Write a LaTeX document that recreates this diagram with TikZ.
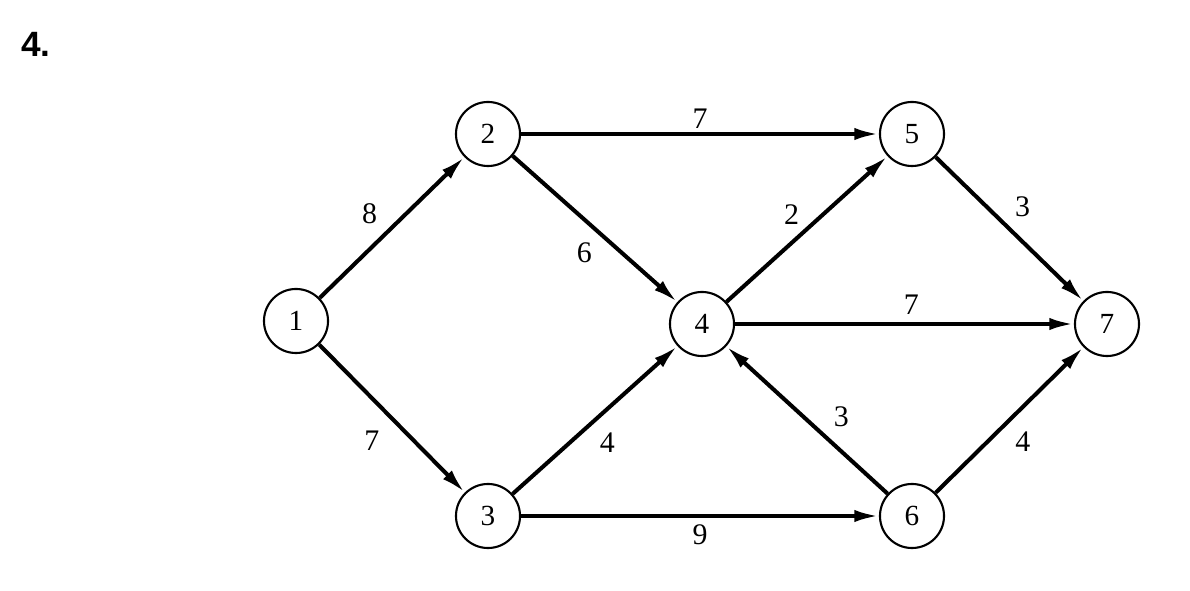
\documentclass[tikz,border=0pt]{standalone}
\usepackage{fontspec}
\setmainfont{Liberation Serif}
\newfontfamily\headfont{Liberation Sans}
\usetikzlibrary{arrows.meta}

\begin{document}
\begin{tikzpicture}[x=0.01cm, y=-0.01cm,
  vertex/.style={draw, circle, line width=0.6pt, minimum size=0.64cm, inner sep=0pt, font=\fontsize{8.3}{9}\selectfont},
  arc/.style={line width=1.15pt, -{Latex[length=7pt, width=3.5pt]}},
  wt/.style={font=\fontsize{8.5}{9}\selectfont, inner sep=2pt}]
  \useasboundingbox (0,0) rectangle (1190,591);
  \node[font=\headfont\bfseries\fontsize{10}{12}\selectfont] (num) at (36,44) {4.};

  \node[vertex] (n1) at (296,321) {1};
  \node[vertex] (n2) at (488,134) {2};
  \node[vertex] (n3) at (488,516) {3};
  \node[vertex] (n4) at (702,324) {4};
  \node[vertex] (n5) at (912,134) {5};
  \node[vertex] (n6) at (912,516) {6};
  \node[vertex] (n7) at (1107,324) {7};

  \draw[arc] (n1) -- node[wt, pos=0.46, above left] {8} (n2);
  \draw[arc] (n1) -- node[wt, pos=0.5, below left, inner sep=3pt] {7} (n3);
  \draw[arc] (n2) -- node[wt, above, yshift=-1] {7} (n5);
  \draw[arc] (n2) -- node[wt, pos=0.535, below left] {6} (n4);
  \draw[arc] (n3) -- node[wt, pos=0.474, below right] {4} (n4);
  \draw[arc] (n3) -- node[wt, below] {9} (n6);
  \draw[arc] (n4) -- node[wt, pos=0.49, above left, inner sep=1.2pt] {2} (n5);
  \draw[arc] (n4) -- node[wt, pos=0.52, above] {7} (n7);
  \draw[arc] (n5) -- node[wt, pos=0.476, above right] {3} (n7);
  \draw[arc] (n6) -- node[wt, pos=0.39, above right] {3} (n4);
  \draw[arc] (n6) -- node[wt, pos=0.479, below right] {4} (n7);
\end{tikzpicture}
\end{document}
